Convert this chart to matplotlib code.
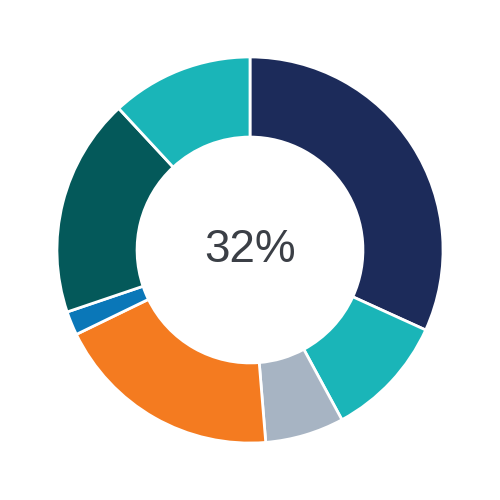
import matplotlib
matplotlib.use('Agg')
import matplotlib.pyplot as plt

# Slice shares, clockwise from 12 o'clock
labels = ['A', 'B', 'C', 'D', 'E', 'F', 'G']
values = [31.8, 10.3, 6.6, 19.1, 2.0, 18.3, 11.9]
colors = ['#1c2b5a', '#1ab5b8', '#a7b4c3', '#f47b20', '#0a77b8', '#04595a', '#1ab5b8']
center_text = '32%'

fig = plt.figure(figsize=(5, 5), dpi=100)
ax = fig.add_axes([0, 0, 1, 1])

ax.pie(values, colors=colors, startangle=90, counterclock=False,
       radius=1.0,
       wedgeprops=dict(width=0.415, edgecolor='white', linewidth=2))

ax.text(0, 0, center_text, ha='center', va='center', fontsize=33,
        color='#3b3f46', family=['Liberation Sans', 'DejaVu Sans'])

ax.set_xlim(-1.295, 1.295)
ax.set_ylim(-1.295, 1.295)
ax.set_aspect('equal')
ax.axis('off')

fig.savefig('out.png', dpi=100, facecolor='white')
